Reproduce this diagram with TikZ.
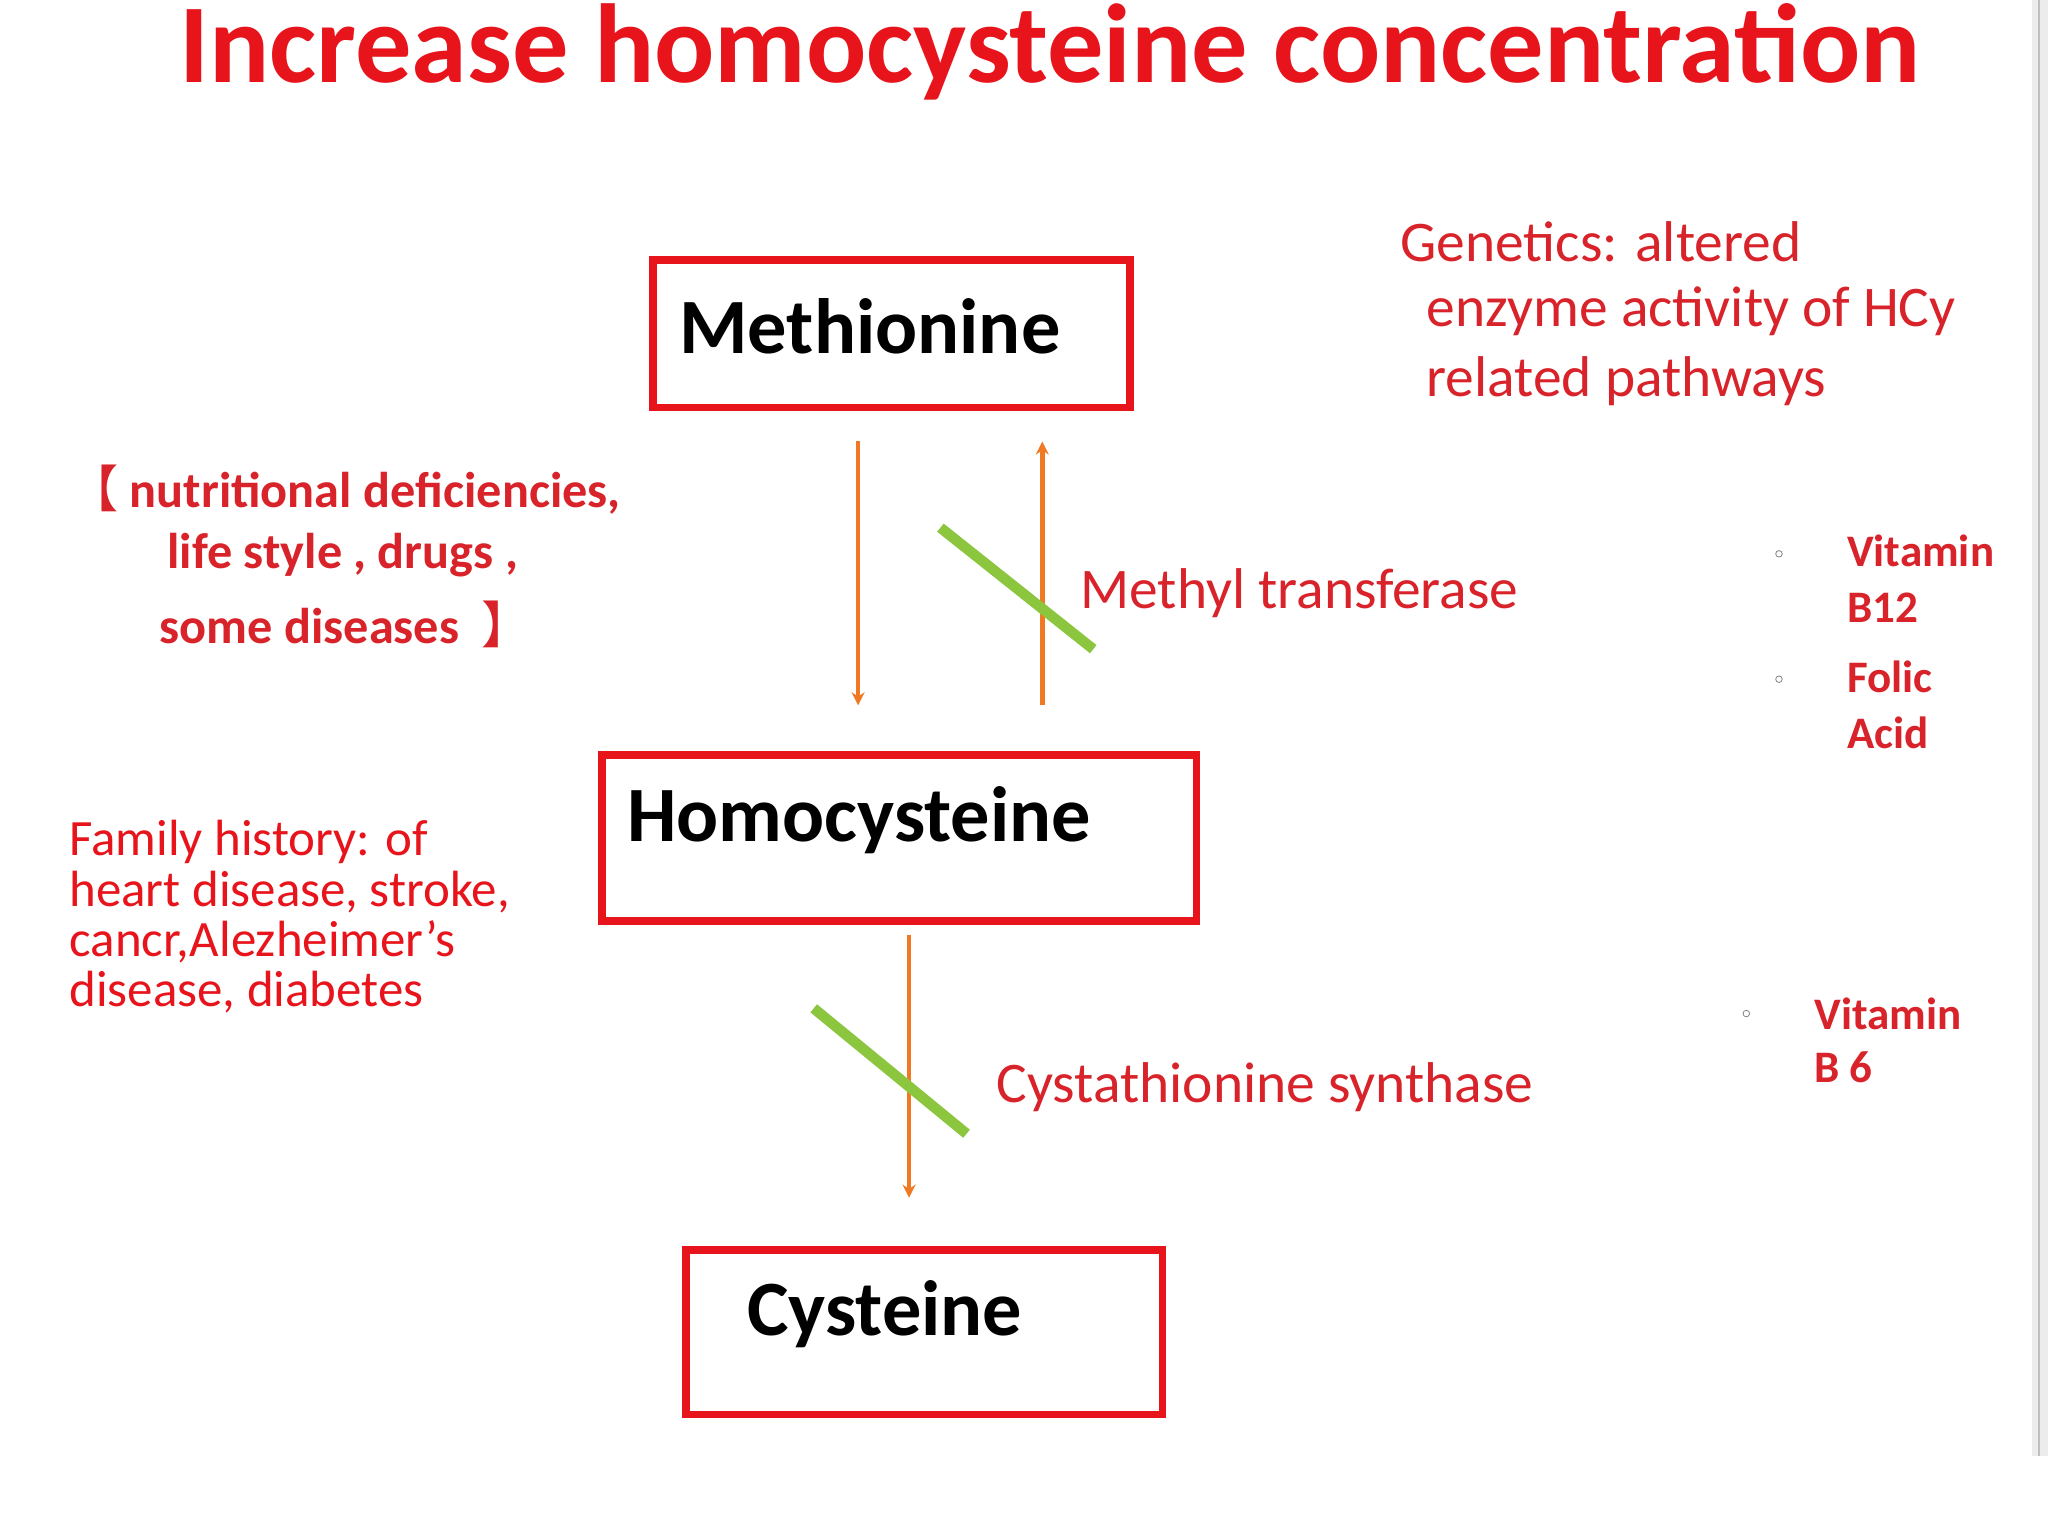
\documentclass[tikz,border=0pt]{standalone}
\usepackage{fontspec}
\setmainfont{Carlito}
\newfontfamily\cjk{Noto Sans CJK SC}
\definecolor{rd}{HTML}{E8141C}
\definecolor{tr}{HTML}{D9232A}
\definecolor{og}{HTML}{F07A24}
\definecolor{gn}{HTML}{8CC63F}
\tikzset{
  box/.style={draw=rd,line width=6pt,minimum width=#1,minimum height=112pt,inner sep=0pt},
  boxtxt/.style={anchor=west,font=\fontsize{60}{66}\selectfont\bfseries,inner sep=0pt},
  lbl/.style={anchor=west,inner sep=0pt,text=tr,font=\fontsize{44}{50}\selectfont},
  blbl/.style={anchor=west,inner sep=0pt,text=tr,font=\fontsize{38.5}{45}\selectfont\bfseries},
  vit/.style={anchor=west,inner sep=0pt,text=tr,font=\fontsize{34.5}{40}\selectfont\bfseries},
  arr/.style={draw=og,line width=3.5pt,-{Stealth[length=10pt,width=10pt]}},
  inh/.style={draw=gn,line width=8pt},
  dot/.style={circle,draw=gray,line width=0.6pt,minimum size=5pt,inner sep=0pt}
}
\usetikzlibrary{arrows.meta}
\begin{document}
\begin{tikzpicture}[x=1pt,y=-1pt]
\useasboundingbox[fill=white] (0,0) rectangle (1568,1176);
\fill[gray!15] (1556,0) rectangle (1568,1115);
\draw[gray!50,line width=2pt] (1561,0) -- (1561,1115);
\node[anchor=center,inner sep=0pt,text=rd,font=\fontsize{86}{90}\selectfont\bfseries] (title) at (804,40) {Increase homocysteine concentration};
\node[box=365pt,minimum height=113pt] (met) at (682.5,255.5) {};
\node[boxtxt] (mett) at (520,250) {Methionine};
\node[box=455pt,minimum height=127pt] (hom) at (688.5,641.5) {};
\node[boxtxt] (homt) at (480,628) {Homocysteine};
\node[box=365pt,minimum height=126pt] (cys) at (707.5,1020) {};
\node[boxtxt] (cyst) at (572,1006) {Cysteine};
\coordinate (a1) at (657,338); \coordinate (a2) at (657,540);
\coordinate (b1) at (798,540); \coordinate (b2) at (798,338);
\coordinate (c1) at (696,716); \coordinate (c2) at (696,917);
\draw[arr] (a1) -- (a2);
\draw[arr] (b1) -- (b2);
\draw[arr] (c1) -- (c2);
\coordinate (g1) at (720,404); \coordinate (g2) at (837,497);
\coordinate (h1) at (623,772); \coordinate (h2) at (740,868);
\draw[inh] (g1) -- (g2);
\draw[inh] (h1) -- (h2);
\node[lbl] (mt) at (827,454) {Methyl transferase};
\node[lbl] (cs) at (763,832) {Cystathionine synthase};
\node[lbl] (g1t) at (1072,185) {Genetics: altered};
\node[lbl] (g2t) at (1092,238) {enzyme activity of HCy};
\node[lbl] (g3t) at (1092,292) {related pathways};
\node[blbl] (n1) at (52,375) {{\cjk\mdseries 【}\ nutritional deficiencies,};
\node[blbl] (n2) at (128,425) {life style , drugs ,};
\node[blbl] (n3) at (122,478) {some diseases\ \ {\cjk\mdseries 】}};
\node[anchor=west,inner sep=0pt,text=rd,font=\fontsize{39}{38.5}\selectfont,align=left] (fh) at (53,702) {Family history: of\\heart disease, stroke,\\cancr,Alezheimer’s\\disease, diabetes};
\node[dot] (d1) at (1362,424) {};
\node[vit] (v1) at (1414,422) {Vitamin};
\node[vit] (v2) at (1414,465) {B12};
\node[dot] (d2) at (1362,520) {};
\node[vit] (v3) at (1414,518) {Folic};
\node[vit] (v4) at (1414,561) {Acid};
\node[dot] (d3) at (1337,776) {};
\node[vit] (v5) at (1389,776) {Vitamin};
\node[vit] (v6) at (1389,817) {B 6};
\end{tikzpicture}
\end{document}
